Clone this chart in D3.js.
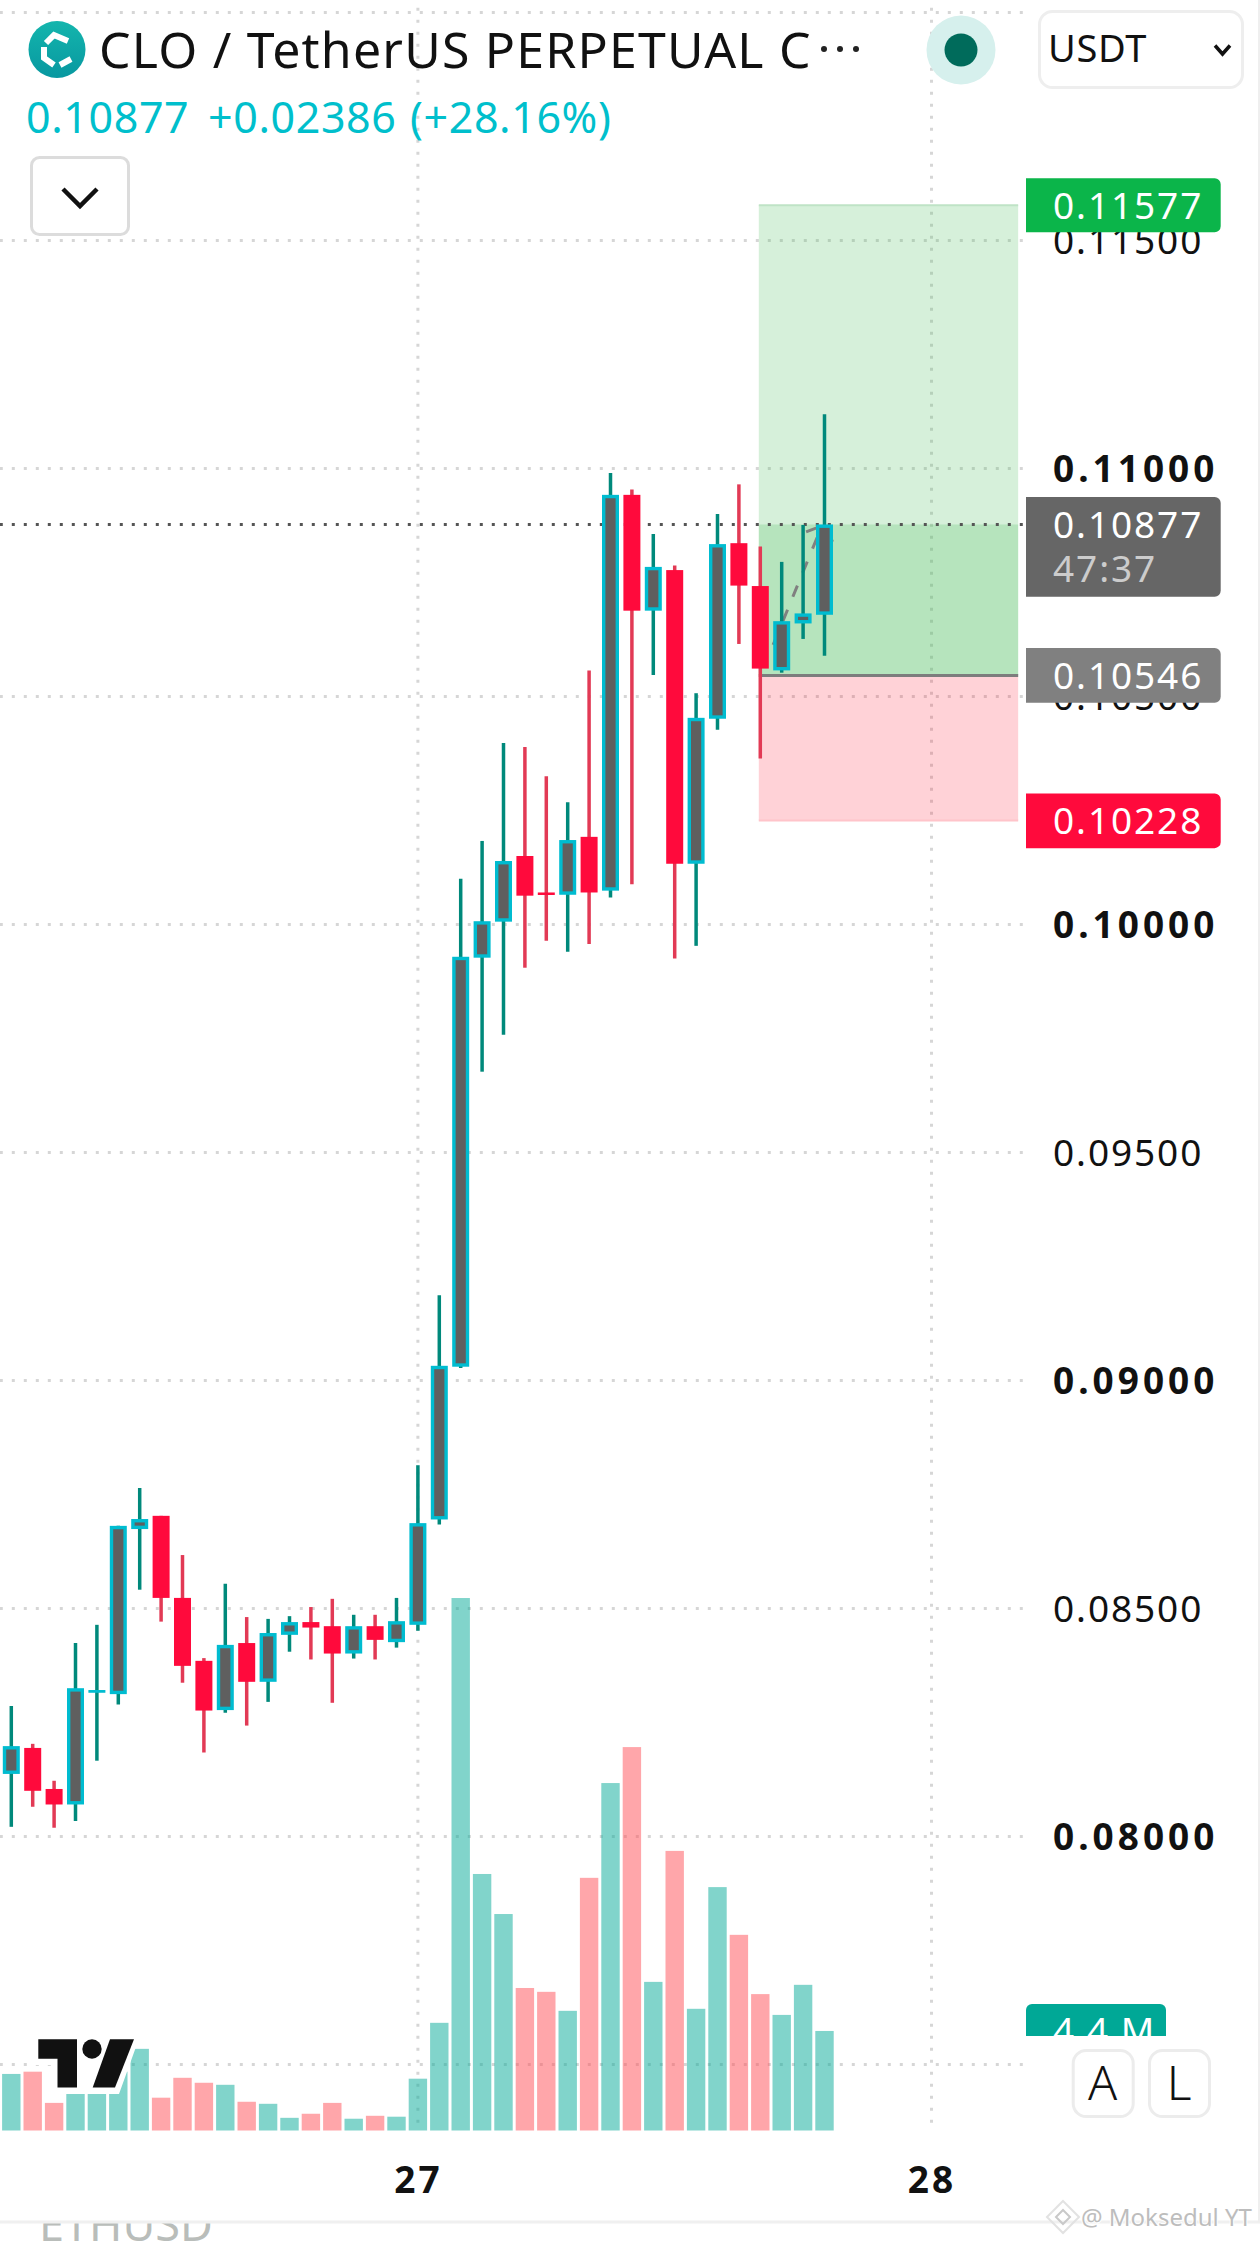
<!DOCTYPE html>
<html>
<head>
<meta charset="utf-8">
<script src="https://cdn.jsdelivr.net/npm/d3@7"></script>
<style>
html,body{margin:0;padding:0;background:#fff;}
svg{display:block;}
text{font-family:"Noto Sans",sans-serif;}
</style>
</head>
<body>
<div id="chart"></div>
<script>
const titleText = "CLO / TetherUS PERPETUAL C";
const lastPrice = "0.10877", change = "+0.02386", changePct = "(+28.16%)";
const currency = "USDT", countdown = "47:37", lastVolume = "4.4 M";
const priceTicks = [0.12, 0.115, 0.11, 0.105, 0.10, 0.095, 0.09, 0.085, 0.08, 0.075];
const boldTicks = [0.11, 0.10, 0.09, 0.08];
const hiddenTicks = [0.12, 0.075];
const dayTicks = [19, 43];
const dayLabels = ["27", "28"];
const opens  = [.08137,.08194,.08104,.08070,.08315,.08312,.08674,.08703,.08523,.08385,.08277,.08424,.08339,.08442,.08470,.08461,.08401,.08461,.08426,.08464,.08695,.09030,.09927,.10006,.10150,.10070,.10065,.10192,.10074,.10942,.10688,.10777,.10133,.10451,.10836,.10742,.10557,.10660,.10679];
const closes = [.08198,.08100,.08070,.08325,.08321,.08681,.08696,.08523,.08374,.08276,.08420,.08339,.08446,.08470,.08458,.08401,.08461,.08431,.08472,.08687,.09032,.09929,.10007,.10139,.10063,.10065,.10185,.10070,.10942,.10688,.10784,.10133,.10453,.10834,.10743,.10561,.10665,.10682,.10877];
const highs  = [.08286,.08203,.08122,.08424,.08464,.08681,.08764,.08703,.08617,.08391,.08554,.08481,.08477,.08483,.08503,.08521,.08486,.08486,.08523,.08814,.09187,.10100,.10183,.10398,.10389,.10325,.10268,.10557,.10990,.10954,.10856,.10787,.10507,.10900,.10965,.10829,.10795,.10876,.11119];
const lows   = [.08021,.08065,.08019,.08034,.08166,.08289,.08541,.08471,.08337,.08184,.08271,.08243,.08295,.08405,.08388,.08293,.08390,.08388,.08414,.08451,.08684,.09027,.09677,.09758,.09905,.09964,.09940,.09957,.10059,.10088,.10547,.09925,.09953,.10427,.10615,.10364,.10552,.10626,.10589];
const isUp   = [1,0,0,1,1,1,1,0,0,0,1,0,1,1,0,0,1,0,1,1,1,1,1,1,0,0,1,0,1,0,1,0,1,1,0,0,1,1,1];
const volumes = [2.5,2.6,1.22,2.0,2.0,2.6,3.61,1.45,2.33,2.11,2.02,1.27,1.18,.56,.74,1.22,.52,.65,.61,2.29,4.76,23.54,11.34,9.57,6.30,6.13,5.29,11.17,15.36,16.95,6.57,12.36,5.38,10.76,8.65,6.03,5.11,6.44,4.40];
const targetPrice = 0.11577, closePrice = 0.10877, entryPrice = 0.10546, stopPrice = 0.10228;
const boxStart = 34.93, boxEnd = 47.05;
const pathAIdx = [35.6, 37.8], pathAPrice = [.10613, .10865];
const pathBIdx = [37.14, 37.6, 38.07, 38.4], pathBPrice = [.10861, .10869, .10874, .10836];

(function () {
const W = 1260, H = 2242;
const svg = d3.select("#chart").append("svg").attr("width", W).attr("height", H);
const x = d3.scaleLinear().domain([0, 43]).range([11.3, 931.5]);
const y = d3.scaleLinear().domain([0.12, 0.08]).range([12.4, 1836.4]);
const vy = d3.scaleLinear().domain([0, 25]).range([2130.5, 1565]);
const teal = "#00897b", cyan = "#00bcd0", body = "#5f5f5f", red = "#ff0a3c", redWick = "#e23a55";
const green = "#0bb54a";
const FS = 37;

// grid
const grid = svg.append("g");
grid.selectAll("line.h").data(priceTicks).join("line").attr("class", "h")
  .attr("x1", -0.2).attr("x2", 1024).attr("y1", d => y(d)).attr("y2", d => y(d))
  .attr("stroke", "#d6d6d6").attr("stroke-width", 3).attr("stroke-dasharray", "3 9");
grid.selectAll("line.v").data(dayTicks).join("line").attr("class", "v")
  .attr("x1", d => x(d)).attr("x2", d => x(d)).attr("y1", -4.2).attr("y2", 2124)
  .attr("stroke", "#d6d6d6").attr("stroke-width", 3).attr("stroke-dasharray", "3 9");

// position tool
const boxX = x(boxStart), boxW = x(boxEnd) - x(boxStart);
svg.append("rect").attr("x", boxX).attr("width", boxW).attr("y", y(targetPrice)).attr("height", y(entryPrice) - y(targetPrice)).attr("fill", "#45bb57").attr("fill-opacity", .22);
svg.append("rect").attr("x", boxX).attr("width", boxW).attr("y", y(closePrice)).attr("height", y(entryPrice) - y(closePrice)).attr("fill", "#45bb57").attr("fill-opacity", .22);
svg.append("rect").attr("x", boxX).attr("width", boxW).attr("y", y(entryPrice)).attr("height", y(stopPrice) - y(entryPrice)).attr("fill", "#ff001e").attr("fill-opacity", .175);
svg.append("line").attr("x1", boxX).attr("x2", boxX + boxW).attr("y1", y(targetPrice)).attr("y2", y(targetPrice)).attr("stroke", "#bfe3c6").attr("stroke-width", 2);
svg.append("line").attr("x1", boxX).attr("x2", boxX + boxW).attr("y1", y(stopPrice)).attr("y2", y(stopPrice)).attr("stroke", "#ffc4ca").attr("stroke-width", 2);
svg.append("line").attr("x1", boxX).attr("x2", boxX + boxW).attr("y1", y(entryPrice)).attr("y2", y(entryPrice)).attr("stroke", "#7d7d7d").attr("stroke-width", 3);

// volume
svg.append("g").selectAll("rect").data(volumes).join("rect")
  .attr("x", (d, i) => x(i) - 9.2).attr("width", 18.4)
  .attr("y", d => vy(d)).attr("height", d => vy(0) - vy(d))
  .attr("fill", (d, i) => isUp[i] ? "#04a997" : "#ff4d55").attr("fill-opacity", .5);

// TradingView mark
const logo = svg.append("g");
logo.append("polygon").attr("points", "32,2033 141,2033 119,2094 52,2094 52,2065 32,2065").attr("fill", "#fff");
logo.append("path").attr("d", "M38.3,2039.3H77V2087.5H57.5V2058.7H38.3Z").attr("fill", "#111");
logo.append("circle").attr("cx", 92).attr("cy", 2049).attr("r", 9.7).attr("fill", "#111");
logo.append("path").attr("d", "M110,2039.3H134L115,2087.5H92.7Z").attr("fill", "#111");

// last price line
svg.append("line").attr("x1", -0.2).attr("x2", 1024).attr("y1", y(closePrice)).attr("y2", y(closePrice))
  .attr("stroke", "#555").attr("stroke-width", 3).attr("stroke-dasharray", "3 9");

// dashed projection
const lineGen = d3.line().x(d => x(d[0])).y(d => y(d[1]));
[[pathAIdx, pathAPrice], [pathBIdx, pathBPrice]].forEach(([a, b]) => {
  svg.append("path").attr("d", lineGen(a.map((v, i) => [v, b[i]]))).attr("fill", "none")
    .attr("stroke", "#808080").attr("stroke-width", 3).attr("stroke-dasharray", "12 14");
});

// candles
const bodyW = 17, wickW = 3.5, edge = 3.4;
const cg = svg.append("g").selectAll("g").data(opens).join("g");
cg.append("line")
  .attr("x1", (d, i) => x(i)).attr("x2", (d, i) => x(i))
  .attr("y1", (d, i) => y(highs[i])).attr("y2", (d, i) => y(lows[i]))
  .attr("stroke", (d, i) => isUp[i] ? teal : redWick).attr("stroke-width", wickW);
const bodyTop = i => y(Math.max(opens[i], closes[i]));
const bodyBot = i => y(Math.min(opens[i], closes[i]));
cg.append("rect")
  .attr("x", (d, i) => x(i) - bodyW / 2).attr("width", bodyW)
  .attr("y", (d, i) => bodyTop(i)).attr("height", (d, i) => Math.max(2.5, bodyBot(i) - bodyTop(i)))
  .attr("fill", (d, i) => isUp[i] ? cyan : red);
cg.each(function (d, i) {
  if (isUp[i] && bodyBot(i) - bodyTop(i) > 6) {
    d3.select(this).append("rect")
      .attr("x", x(i) - bodyW / 2 + edge).attr("width", bodyW - 2 * edge)
      .attr("y", bodyTop(i) + edge).attr("height", bodyBot(i) - bodyTop(i) - 2 * edge)
      .attr("fill", body);
  }
});

// price axis
const axisR = d3.axisRight(y).tickValues(priceTicks.filter(t => !hiddenTicks.includes(t)))
  .tickSize(0).tickPadding(0).tickFormat(d3.format(".5f"));
const ax = svg.append("g").attr("transform", "translate(1053,0)").call(axisR);
ax.select(".domain").remove();
ax.selectAll("text")
  .attr("dy", ".36em")
  .style("font-family", '"Noto Sans",sans-serif').style("font-size", FS + "px")
  .style("font-weight", d => boldTicks.includes(d) ? 700 : 400)
  .style("letter-spacing", d => boldTicks.includes(d) ? "4px" : "1.9px")
  .attr("fill", "#111");

// time axis
const axisB = d3.axisBottom(x).tickValues(dayTicks).tickSize(0).tickPadding(0)
  .tickFormat((d, i) => dayLabels[i]);
const bx = svg.append("g").attr("transform", "translate(0,2166)").call(axisB);
bx.select(".domain").remove();
bx.selectAll("text").style("font-family", '"Noto Sans",sans-serif').style("font-size", FS + "px")
  .style("font-weight", 700).attr("fill", "#111").attr("dy", "27px").style("letter-spacing", "3px");

// price tags
function tag(t, h, color) {
  const x0 = 1026, x1 = 1220.7, r = 6;
  svg.append("path").attr("d", `M${x0},${t}H${x1 - r}a${r},${r} 0 0 1 ${r},${r}V${t + h - r}a${r},${r} 0 0 1 ${-r},${r}H${x0}Z`).attr("fill", color);
}
function tagText(str, yc, color) {
  svg.append("text").attr("x", 1053).attr("y", yc).attr("dy", ".36em")
    .style("font-size", FS + "px").style("letter-spacing", "1.9px").attr("fill", color).text(str);
}
tag(y(targetPrice) - 27, 54, green); tagText(d3.format(".5f")(targetPrice), y(targetPrice), "#fff");
tag(497, 99.7, "#666"); tagText(lastPrice, y(closePrice), "#fff"); tagText(countdown, 569, "#ccc");
tag(y(entryPrice) - 27.4, 54.7, "#808080"); tagText(d3.format(".5f")(entryPrice), y(entryPrice), "#fff");
tag(y(stopPrice) - 27, 54.7, red); tagText(d3.format(".5f")(stopPrice), y(stopPrice), "#fff");

// volume tag, clipped
const defs = svg.append("defs");
defs.append("clipPath").attr("id", "vc").append("rect").attr("x", 1026).attr("y", 2004).attr("width", 140).attr("height", 32);
defs.append("clipPath").attr("id", "ec").append("rect").attr("x", 0).attr("y", 2223.5).attr("width", 400).attr("height", 19);
const vt = svg.append("g").attr("clip-path", "url(#vc)");
vt.append("rect").attr("x", 1026).attr("y", 2004).attr("width", 140).attr("height", 60).attr("rx", 6).attr("fill", "#00a896");
vt.append("text").attr("x", 1053).attr("y", vy(volumes[38])).attr("dy", ".36em").style("font-size", FS + "px").style("letter-spacing", "1.5px").attr("fill", "#fff").text(lastVolume);

// A / L buttons
[["A", 1071.7], ["L", 1148]].forEach(([s, bx0]) => {
  svg.append("rect").attr("x", bx0 + 1.5).attr("y", 2050.5).attr("width", 60).attr("height", 66).attr("rx", 13)
    .attr("fill", "#fff").attr("stroke", "#ececec").attr("stroke-width", 3);
  svg.append("text").attr("x", bx0 + 31).attr("y", 2100).attr("text-anchor", "middle")
    .style("font-size", "48px").style("font-weight", 300).attr("fill", "#111").text(s);
});

// header
const grad = defs.append("linearGradient").attr("id", "lg").attr("x1", 0).attr("x2", 0).attr("y1", 0).attr("y2", 1);
grad.append("stop").attr("offset", 0).attr("stop-color", "#14b5ad");
grad.append("stop").attr("offset", 1).attr("stop-color", "#0898a0");
svg.append("circle").attr("cx", 57).attr("cy", 49.5).attr("r", 28.5).attr("fill", "url(#lg)");
svg.append("path").attr("d", "M46,43L54,35L68,41M44,47V58L54,65M60,65L71,59").attr("fill", "none").attr("stroke", "#fff").attr("stroke-width", 6);
svg.append("text").attr("x", 99).attr("y", 68).style("font-size", "50px").style("letter-spacing", "1.2px").attr("fill", "#111").text(titleText);
svg.selectAll("circle.dot").data([0, 1, 2]).join("circle").attr("class", "dot").attr("cx", d => 824 + d * 16).attr("cy", 49).attr("r", 3).attr("fill", "#222");
const sub = [[lastPrice, 26], [change, 208], [changePct, 410]];
sub.forEach(([s, px]) => svg.append("text").attr("x", px).attr("y", 133).style("font-size", "43px").style("letter-spacing", ".6px").attr("fill", "#00bfcc").text(s));
svg.append("circle").attr("cx", 961).attr("cy", 50).attr("r", 34.5).attr("fill", "#d6f0ed");
svg.append("circle").attr("cx", 961).attr("cy", 50).attr("r", 16.5).attr("fill", "#006b5b");
svg.append("rect").attr("x", 1039.5).attr("y", 11.5).attr("width", 203).attr("height", 76).attr("rx", 13).attr("fill", "#fff").attr("stroke", "#eeeeee").attr("stroke-width", 3);
svg.append("text").attr("x", 1048).attr("y", 62).style("font-size", "38px").style("letter-spacing", ".7px").attr("fill", "#111").text(currency);
svg.append("path").attr("d", "M1215,45.5L1222.5,54L1230,45.5").attr("fill", "none").attr("stroke", "#111").attr("stroke-width", 3.5);
svg.append("rect").attr("x", 31.5).attr("y", 157.5).attr("width", 97).attr("height", 77).attr("rx", 8).attr("fill", "#fff").attr("stroke", "#dcdcdc").attr("stroke-width", 3);
svg.append("path").attr("d", "M63,189L80,206L97,189").attr("fill", "none").attr("stroke", "#111").attr("stroke-width", 4.5);

// footer
svg.append("line").attr("x1", 0).attr("x2", W).attr("y1", 2222).attr("y2", 2222).attr("stroke", "#f0f0f0").attr("stroke-width", 3);
svg.append("line").attr("x1", 1259).attr("x2", 1259).attr("y1", 0).attr("y2", 2222).attr("stroke", "#efefef").attr("stroke-width", 2);
svg.append("g").attr("clip-path", "url(#ec)").append("text").attr("x", 39).attr("y", 2241).style("font-size", "45px").attr("fill", "#b9bdba").text("ETHUSD");
const wm = svg.append("g").attr("fill", "none").attr("stroke", "#c9c9c9").attr("stroke-width", 2);
wm.append("path").attr("d", "M1063,2201L1079,2217L1063,2233L1047,2217Z").attr("stroke", "#e2e2e2");
wm.append("path").attr("d", "M1063,2210L1070,2217L1063,2224L1056,2217Z");
svg.append("text").attr("x", 1081).attr("y", 2226).style("font-size", "24px").style("paint-order", "stroke").attr("stroke", "#fff").attr("stroke-width", 2)
  .attr("fill", "#bdbdbd").text("@ Moksedul YT");
})();
</script>
</body>
</html>
